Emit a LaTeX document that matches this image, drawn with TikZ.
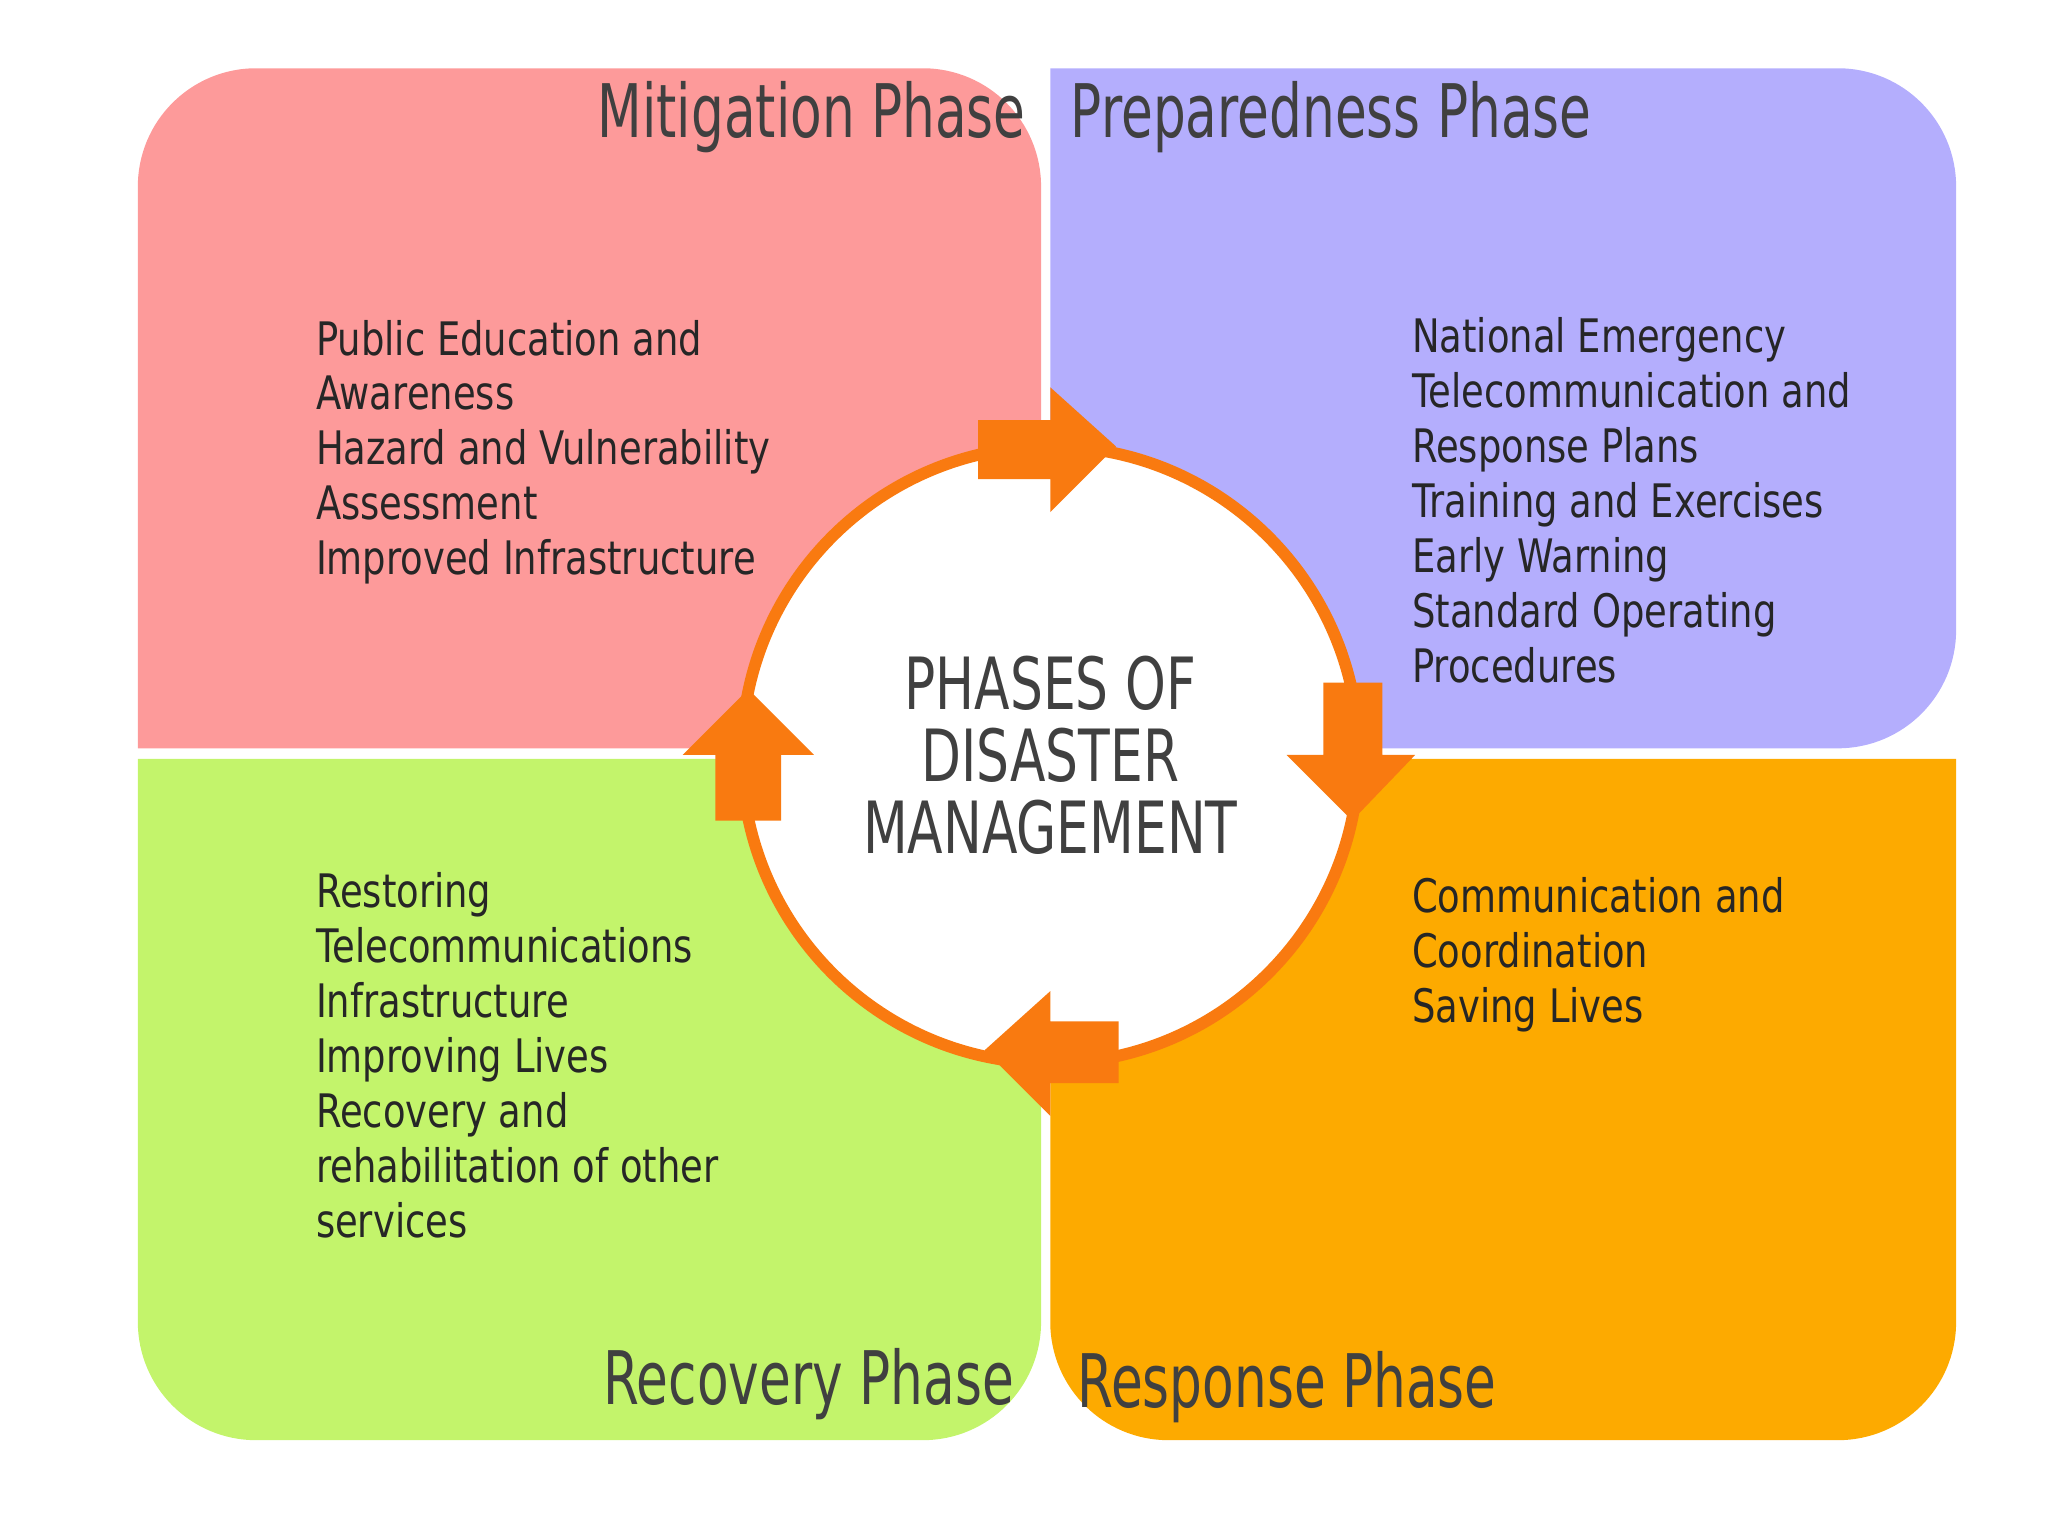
\documentclass[tikz,border=0pt]{standalone}
\usepackage{fontspec}
\setmainfont[FakeStretch=0.72]{DejaVu Sans}
\newfontfamily\bodyfont[FakeStretch=0.8]{DejaVu Sans}
\newfontfamily\titlefont[FakeStretch=0.7]{DejaVu Sans}
\begin{document}
\begin{tikzpicture}[x=0.01cm,y=-0.01cm,
  body/.style={anchor=north west,inner sep=0pt,align=left,font=\bodyfont\fontsize{10}{11.9}\selectfont,text=black!85},
  ttl/.style={inner sep=0pt,font=\titlefont\fontsize{16}{19}\selectfont,text=black!75},
  arr/.style={fill=arrorange}]
\definecolor{qpink}{HTML}{FD9A9A}
\definecolor{qpurple}{HTML}{B4AEFD}
\definecolor{qgreen}{HTML}{C3F46B}
\definecolor{qorange}{HTML}{FDAA00}
\definecolor{arrorange}{HTML}{F97A10}
\useasboundingbox (0,0) rectangle (1560,1170);
\fill[qpink] (105,570) {[rounded corners=0.9cm] -- (105,52) -- (793,52)} -- (793,570) -- cycle;
\fill[qpurple] (800,570) -- (800,52) {[rounded corners=0.9cm] -- (1490,52) -- (1490,570)} -- cycle;
\fill[qgreen] (793,578) -- (105,578) {[rounded corners=0.9cm] -- (105,1097) -- (793,1097)} -- cycle;
\fill[qorange] (800,578) -- (1490,578) {[rounded corners=0.9cm] -- (1490,1097) -- (800,1097)} -- cycle;
\draw[arrorange,line width=0.09cm,fill=white] (800,575) circle (235);
\fill[arr] (745,320)--(800,320)--(800,295)--(850,340)--(800,390)--(800,365)--(745,365)--cycle;
\fill[arr] (1008,520)--(1053,520)--(1053,575)--(1078,575)--(1030,625)--(980,575)--(1008,575)--cycle;
\fill[arr] (852,778)--(800,778)--(800,755)--(750,800)--(800,850)--(800,825)--(852,825)--cycle;
\fill[arr] (595,625)--(545,625)--(545,575)--(520,575)--(570,525)--(620,575)--(595,575)--cycle;
\node[ttl,anchor=base east] (t1) at (782,105) {Mitigation Phase};
\node[ttl,anchor=base west] (t2) at (815,105) {Preparedness Phase};
\node[ttl,anchor=base east] (t3) at (773,1070) {Recovery Phase};
\node[ttl,anchor=base west] (t4) at (820,1072) {Response Phase};
\node[inner sep=0pt,align=center,font=\fontsize{15.6}{15.6}\selectfont,text=black!75] (c) at (800,575) {PHASES OF\\DISASTER\\MANAGEMENT};
\node[body] (b1) at (240,243) {Public Education and\\Awareness\\Hazard and Vulnerability\\Assessment\\Improved Infrastructure};
\node[body] (b2) at (1075,241) {National Emergency\\Telecommunication and\\Response Plans\\Training and Exercises\\Early Warning\\Standard Operating\\Procedures};
\node[body] (b3) at (240,664) {Restoring\\Telecommunications\\Infrastructure\\Improving Lives\\Recovery and\\rehabilitation of other\\services};
\node[body] (b4) at (1075,668) {Communication and\\Coordination\\Saving Lives};
\end{tikzpicture}
\end{document}
